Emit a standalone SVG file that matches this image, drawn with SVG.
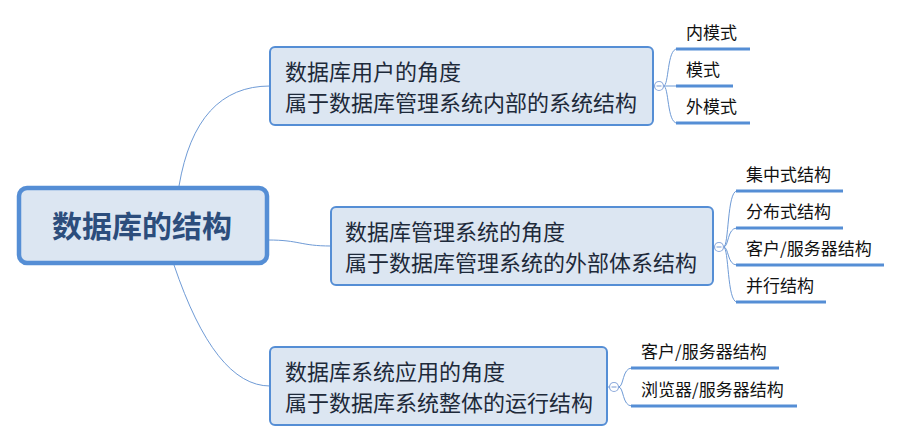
<svg xmlns="http://www.w3.org/2000/svg" width="902" height="442" viewBox="0 0 902 442">
<defs>
<style>
.root rect{fill:#dce6f2;stroke:#558ed5;stroke-width:4.5}
.root text{font-family:"Noto Sans CJK SC","Microsoft YaHei",sans-serif;font-size:30px;font-weight:bold;fill:#2c4d7c;text-anchor:middle}
.branch rect{fill:#dce6f2;stroke:#558ed5;stroke-width:2}
.branch text{font-family:"Noto Sans CJK SC","Microsoft YaHei",sans-serif;font-size:22px;fill:#1e2a3a}
.toggle circle{fill:#fff;stroke:#8eaadb;stroke-width:1.2}
.toggle line{stroke:#8eaadb;stroke-width:1.2}
.leaf line{stroke:#558ed5;stroke-width:3}
.leaf text{font-family:"Noto Sans CJK SC","Microsoft YaHei",sans-serif;font-size:17px;fill:#111}
.conn path{fill:none;stroke:#6f9bd6;stroke-width:1}
</style>
</defs>
<rect width="902" height="442" fill="#fff"/>
<g id="connectors" class="conn">
<path d="M179 186 Q196 86 270 86"/>
<path d="M268 240 C300 240 300 246 331 246"/>
<path d="M174 265 Q215 386 270 386"/>
<path d="M653 86 L654.5 86"/>
<path d="M713 247 L714.5 247"/>
<path d="M607 387 L609.5 387"/>
<path d="M663.5 86 C669 86 667 49 677 49"/>
<path d="M663.5 86 L677 86"/>
<path d="M663.5 86 C669 86 667 123 677 123"/>
<path d="M723.5 247 C729 247 727 191 737 191"/>
<path d="M723.5 247 C729 247 727 228 737 228"/>
<path d="M723.5 247 C729 247 727 265 737 265"/>
<path d="M723.5 247 C729 247 727 302 737 302"/>
<path d="M618.5 387 C624 387 622 368 632 368"/>
<path d="M618.5 387 C624 387 622 406 632 406"/>
</g>
<g id="root" class="root">
<rect x="19" y="188" width="248" height="75" rx="8"/>
<text x="142" y="237">数据库的结构</text>
</g>
<g id="branch1" class="branch">
<rect x="270" y="47" width="383" height="78" rx="5"/>
<text x="285" y="80">数据库用户的角度</text>
<text x="285" y="111">属于数据库管理系统内部的系统结构</text>
</g>
<g id="branch2" class="branch">
<rect x="331" y="207" width="382" height="78" rx="5"/>
<text x="345" y="240">数据库管理系统的角度</text>
<text x="345" y="271">属于数据库管理系统的外部体系结构</text>
</g>
<g id="branch3" class="branch">
<rect x="270" y="347" width="337" height="78" rx="5"/>
<text x="285" y="380">数据库系统应用的角度</text>
<text x="285" y="411">属于数据库系统整体的运行结构</text>
</g>
<g class="toggle">
<circle cx="659" cy="86" r="4.5"/><line x1="656.5" y1="86" x2="661.5" y2="86"/>
<circle cx="719" cy="247" r="4.5"/><line x1="716.5" y1="247" x2="721.5" y2="247"/>
<circle cx="614" cy="387" r="4.5"/><line x1="611.5" y1="387" x2="616.5" y2="387"/>
</g>
<g id="leaf1a" class="leaf"><text x="686" y="39">内模式</text><line x1="676" y1="49" x2="750" y2="49"/></g>
<g id="leaf1b" class="leaf"><text x="686" y="76">模式</text><line x1="676" y1="86" x2="733" y2="86"/></g>
<g id="leaf1c" class="leaf"><text x="686" y="113">外模式</text><line x1="676" y1="123" x2="750" y2="123"/></g>
<g id="leaf2a" class="leaf"><text x="746" y="181">集中式结构</text><line x1="736" y1="191" x2="843" y2="191"/></g>
<g id="leaf2b" class="leaf"><text x="746" y="218">分布式结构</text><line x1="736" y1="228" x2="843" y2="228"/></g>
<g id="leaf2c" class="leaf"><text x="746" y="255">客户/服务器结构</text><line x1="736" y1="265" x2="884" y2="265"/></g>
<g id="leaf2d" class="leaf"><text x="746" y="292">并行结构</text><line x1="736" y1="302" x2="826" y2="302"/></g>
<g id="leaf3a" class="leaf"><text x="641" y="358">客户/服务器结构</text><line x1="631" y1="368" x2="779" y2="368"/></g>
<g id="leaf3b" class="leaf"><text x="641" y="396">浏览器/服务器结构</text><line x1="631" y1="406" x2="797" y2="406"/></g>
</svg>
